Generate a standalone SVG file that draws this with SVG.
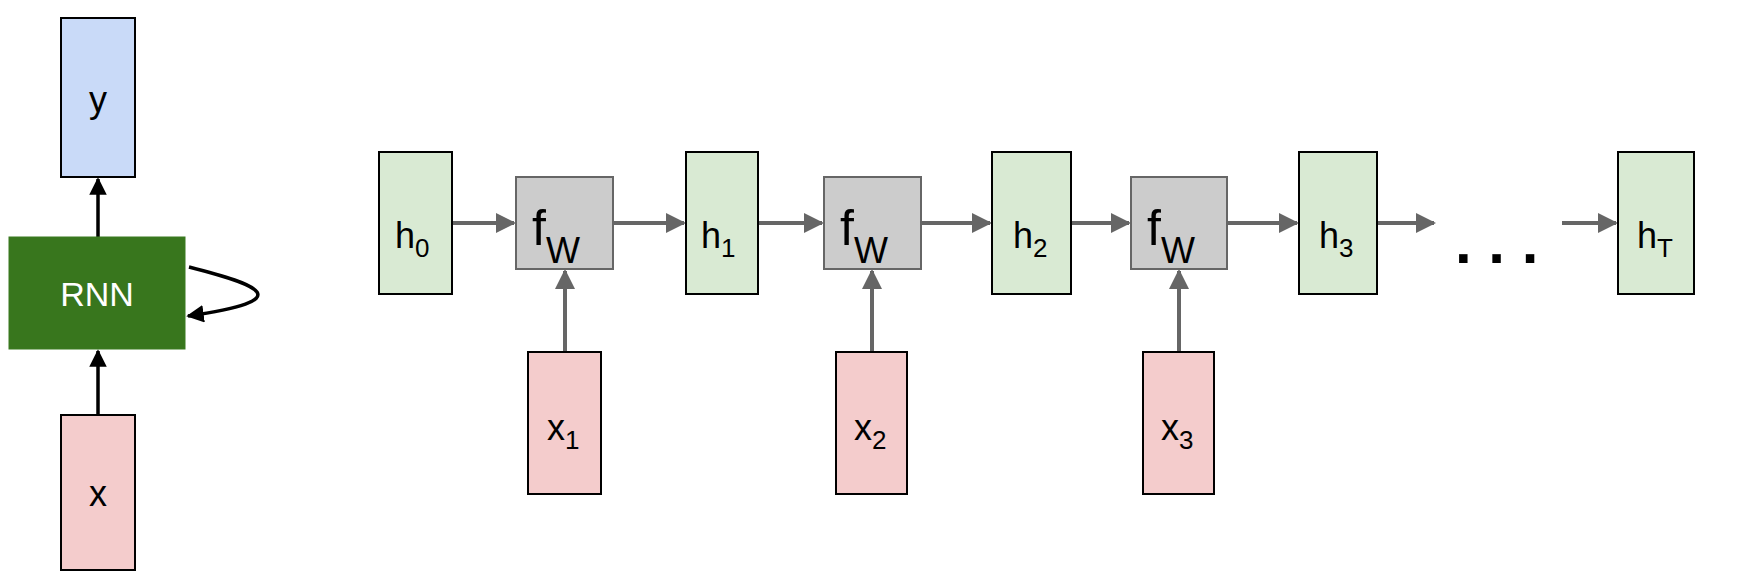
<svg xmlns="http://www.w3.org/2000/svg" width="1744" height="583" viewBox="0 0 1744 583">
<style>
text{font-family:"Liberation Sans",Arial,sans-serif;fill:#000}
.g{fill:#d9ead3;stroke:#000;stroke-width:2}
.p{fill:#f4cccc;stroke:#000;stroke-width:2}
.b{fill:#c9daf8;stroke:#000;stroke-width:2}
.f{fill:#cccccc;stroke:#666;stroke-width:2}
.l{font-size:36px;text-anchor:middle}
.c{stroke:#666;stroke-width:4;fill:none;marker-end:url(#ag)}
.k{stroke:#000;stroke-width:3.5;fill:none;marker-end:url(#ak)}
</style>
<defs>
<marker id="ag" markerWidth="5" markerHeight="5" refX="4.5" refY="2.5" orient="auto" markerUnits="strokeWidth"><path d="M0,0L5,2.5L0,5z" fill="#666"/></marker>
<marker id="ak" markerWidth="5" markerHeight="5" refX="4.5" refY="2.5" orient="auto" markerUnits="strokeWidth"><path d="M0,0L5,2.5L0,5z" fill="#000"/></marker>
</defs>
<rect width="1744" height="583" fill="#fff"/>
<g id="connectors">
<line class="k" x1="98" y1="237" x2="98" y2="179"/>
<line class="k" x1="98" y1="415" x2="98" y2="351"/>
<path class="k" d="M189,267 C260,285 300,300 188,316"/>
<line class="c" x1="453" y1="223" x2="514" y2="223"/>
<line class="c" x1="613" y1="223" x2="684" y2="223"/>
<line class="c" x1="758" y1="223" x2="822" y2="223"/>
<line class="c" x1="921" y1="223" x2="990" y2="223"/>
<line class="c" x1="1071" y1="223" x2="1129" y2="223"/>
<line class="c" x1="1227" y1="223" x2="1297" y2="223"/>
<line class="c" x1="1377" y1="223" x2="1434" y2="223"/>
<line class="c" x1="1562" y1="223" x2="1616" y2="223"/>
<line class="c" x1="565" y1="352" x2="565" y2="271"/>
<line class="c" x1="872" y1="352" x2="872" y2="271"/>
<line class="c" x1="1179" y1="352" x2="1179" y2="271"/>
</g>
<g id="y"><rect class="b" x="61" y="18" width="74" height="159"/><text class="l" x="98" y="112">y</text></g>
<g id="rnn"><rect x="9" y="237" width="176" height="112" fill="#38761d" stroke="#3a7a20"/><text class="l" x="97" y="306" style="fill:#fff;font-size:34px">RNN</text></g>
<g id="x"><rect class="p" x="61" y="415" width="74" height="155"/><text class="l" x="98" y="506">x</text></g>
<g id="h0"><rect class="g" x="379" y="152" width="73" height="142"/><text x="395" y="248" style="font-size:36px">h<tspan dy="9" style="font-size:26px">0</tspan></text></g>
<g id="f1"><rect class="f" x="516" y="177" width="97" height="92"/><text x="532" y="245" style="font-size:50px">f<tspan dy="18" style="font-size:36px">W</tspan></text></g>
<g id="h1"><rect class="g" x="686" y="152" width="72" height="142"/><text x="701" y="248" style="font-size:36px">h<tspan dy="9" style="font-size:26px">1</tspan></text></g>
<g id="f2"><rect class="f" x="824" y="177" width="97" height="92"/><text x="840" y="245" style="font-size:50px">f<tspan dy="18" style="font-size:36px">W</tspan></text></g>
<g id="h2"><rect class="g" x="992" y="152" width="79" height="142"/><text x="1013" y="248" style="font-size:36px">h<tspan dy="9" style="font-size:26px">2</tspan></text></g>
<g id="f3"><rect class="f" x="1131" y="177" width="96" height="92"/><text x="1147" y="245" style="font-size:50px">f<tspan dy="18" style="font-size:36px">W</tspan></text></g>
<g id="h3"><rect class="g" x="1299" y="152" width="78" height="142"/><text x="1319" y="248" style="font-size:36px">h<tspan dy="9" style="font-size:26px">3</tspan></text></g>
<g id="dots"><text x="1455" y="263" style="font-size:60px;font-weight:bold">. . .</text></g>
<g id="hT"><rect class="g" x="1618" y="152" width="76" height="142"/><text x="1637" y="248" style="font-size:36px">h<tspan dy="9" style="font-size:26px">T</tspan></text></g>
<g id="x1"><rect class="p" x="528" y="352" width="73" height="142"/><text x="547" y="440" style="font-size:36px">x<tspan dy="9" style="font-size:26px">1</tspan></text></g>
<g id="x2"><rect class="p" x="836" y="352" width="71" height="142"/><text x="854" y="440" style="font-size:36px">x<tspan dy="9" style="font-size:26px">2</tspan></text></g>
<g id="x3"><rect class="p" x="1143" y="352" width="71" height="142"/><text x="1161" y="440" style="font-size:36px">x<tspan dy="9" style="font-size:26px">3</tspan></text></g>
</svg>
